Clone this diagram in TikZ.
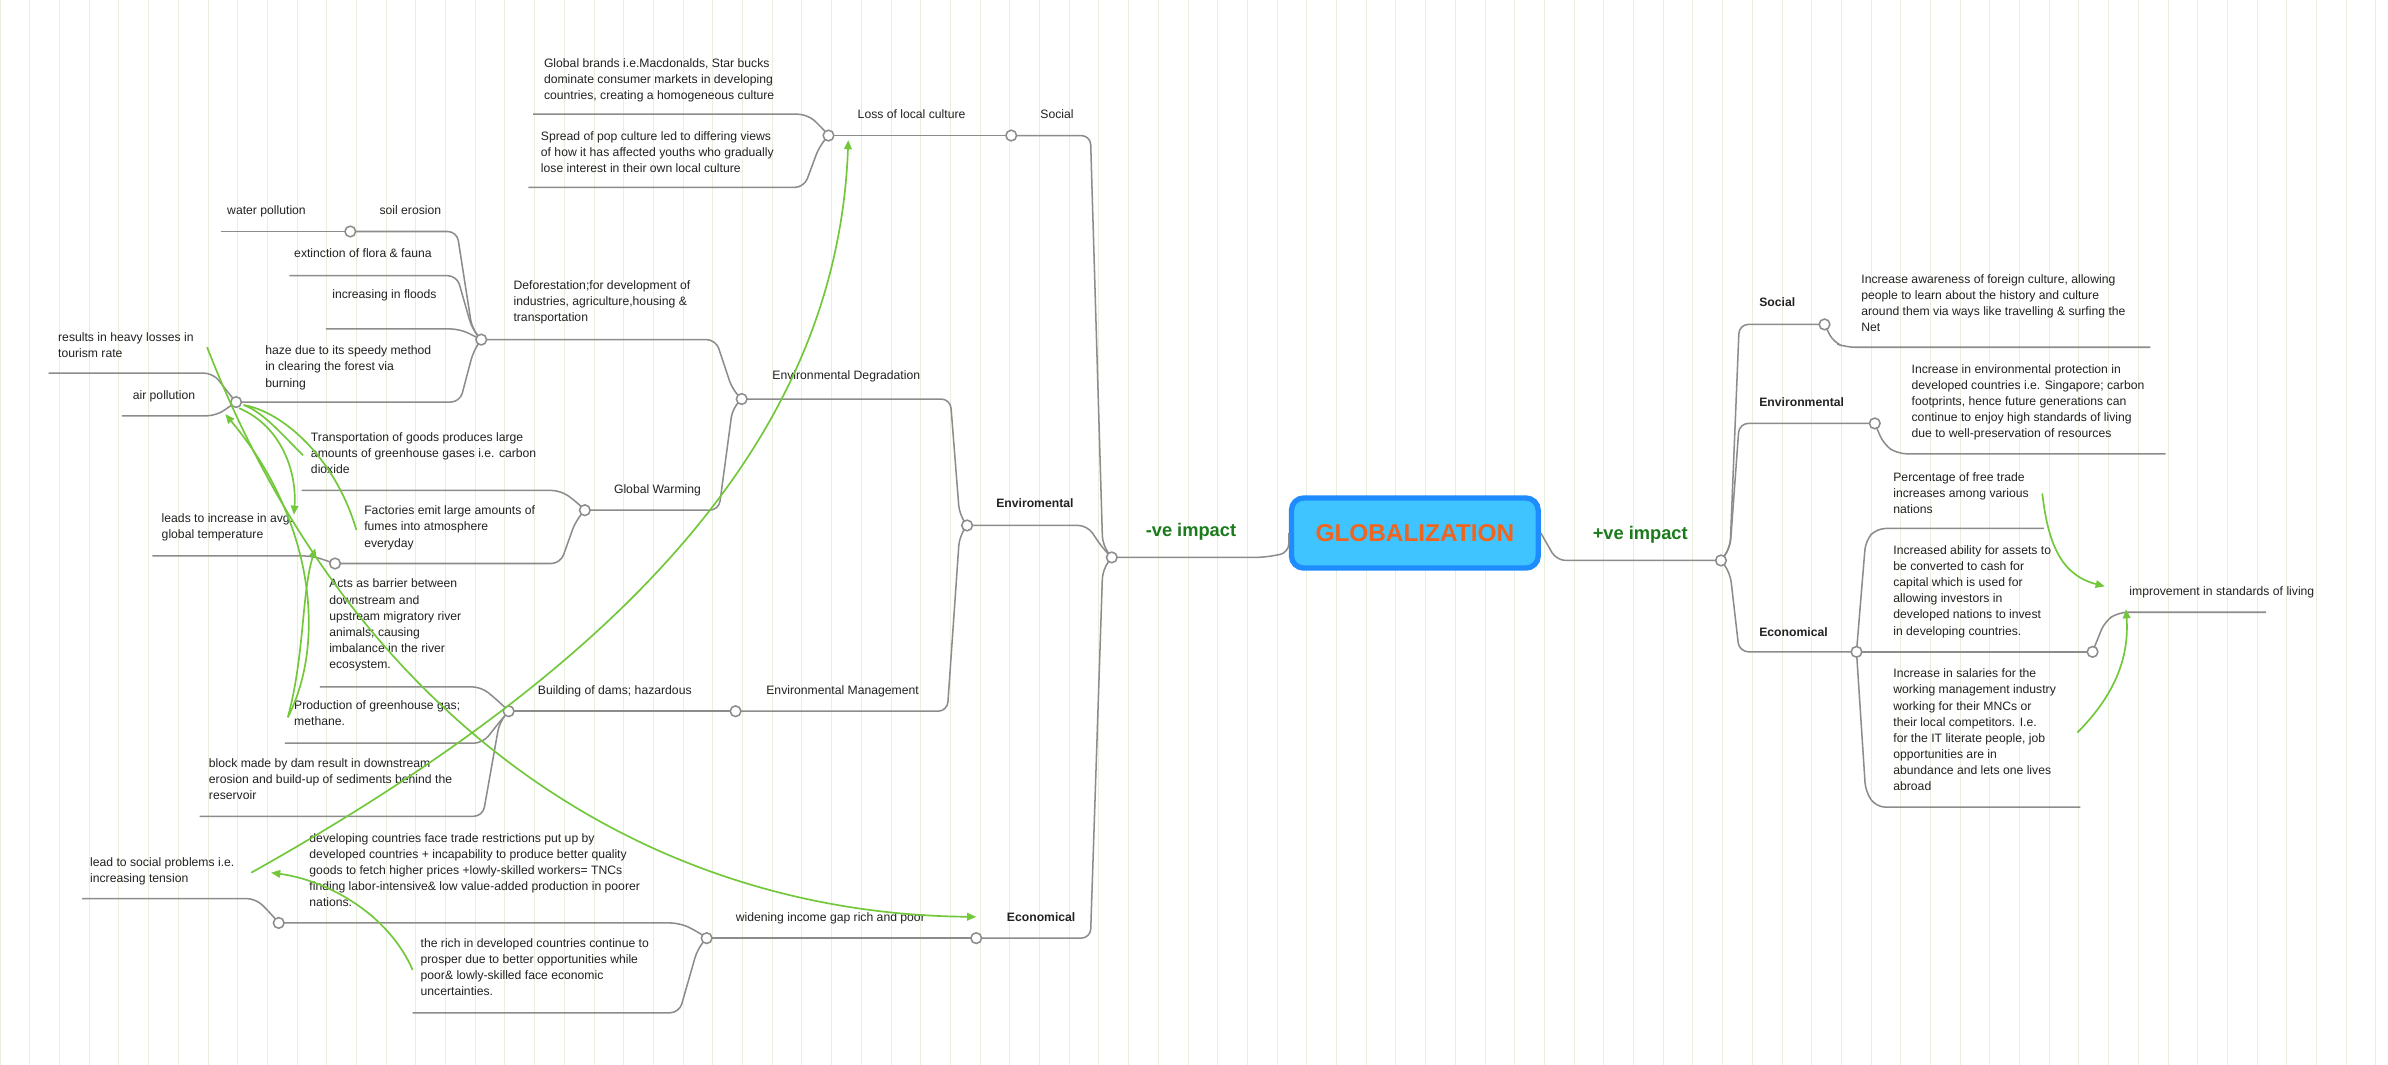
\documentclass[tikz,border=0pt]{standalone}
\usepackage{fontspec}
\setmainfont{Liberation Sans}
\usetikzlibrary{arrows.meta}
\definecolor{gridc}{HTML}{E6F0DC}
\definecolor{brc}{HTML}{8C8C8C}
\definecolor{grn}{HTML}{72C83A}
\definecolor{dgreen}{HTML}{1B7A1B}
\definecolor{boxf}{HTML}{40C4FF}
\definecolor{boxd}{HTML}{1E8CFF}
\definecolor{orng}{HTML}{F0641E}
\definecolor{txt}{HTML}{222222}
\tikzset{
 br/.style={draw=brc,line width=1pt,rounded corners=6pt},
 dot/.style={circle,draw=brc,fill=white,line width=1pt,minimum size=7pt,inner sep=0pt},
 tx/.style={anchor=north west,inner sep=0pt,align=left,text=txt,font=\fontsize{8}{10.6}\selectfont},
 bt/.style={tx,font=\fontsize{8}{10.6}\selectfont\bfseries},
 imp/.style={anchor=center,inner sep=0pt,text=dgreen,font=\fontsize{12}{14}\selectfont\bfseries},
 ga/.style={draw=grn,line width=1.1pt,-{Triangle[length=6pt,width=5pt]}},
 gl/.style={draw=grn,line width=1.1pt}
}
\begin{document}
\begin{tikzpicture}[x=1pt,y=-1pt]
\useasboundingbox (0,0) rectangle (1568,699);
\fill[white] (0,0) rectangle (1568,699);
\draw[gridc,line width=0.5pt,step=19.5] (0,0) grid (1568,699);
% circle positions
\coordinate (c0) at (730,366);
\coordinate (csoc) at (664,89);
\coordinate (closs) at (544,89);
\coordinate (cenv) at (635,345);
\coordinate (cdeg) at (487,262);
\coordinate (cdef) at (316,223);
\coordinate (csoil) at (230,152);
\coordinate (cair) at (155,264);
\coordinate (cgw) at (384,335);
\coordinate (clead) at (220,370);
\coordinate (cman) at (483,467);
\coordinate (cdam) at (334,467);
\coordinate (ceco) at (641,616);
\coordinate (cwid) at (464,616);
\coordinate (cdev) at (183,606);
\coordinate (r0) at (1130,368);
\coordinate (crsoc) at (1198,213);
\coordinate (crenv) at (1231,278);
\coordinate (creco) at (1219,428);
\coordinate (cinc) at (1374,428);
% center box
\node[draw=boxd,line width=3.5pt,fill=boxf,rounded corners=8pt,minimum width=162pt,minimum height=46pt,text=orng,font=\fontsize{16}{18}\selectfont\bfseries] (box) at (929,350) {GLOBALIZATION};
% left branches
\draw[br] (c0) -- (830,366) -- (box.west |- 0,363) -- (box.west);
\draw[br] (csoc) -- (716,89) -- (724,358) -- (c0);
\draw[br] (cenv) -- (714,345) -- (724,360) -- (c0);
\draw[br] (ceco) -- (716,616) -- (724,374) -- (c0);
\draw[br] (closs) -- (csoc);
\draw[br] (350,75) -- (530,75) -- (539,83) -- (closs);
\draw[br] (347,123) -- (528,123) -- (538,96) -- (closs);
\draw[br] (cdeg) -- (624,262) -- (630,338) -- (cenv);
\draw[br] (cman) -- (622,467) -- (630,352) -- (cenv);
\draw[br] (cdef) -- (470,223) -- (481,256) -- (cdeg);
\draw[br] (cgw) -- (472,335) -- (481,268) -- (cdeg);
\draw[br] (csoil) -- (300,152) -- (310,216) -- (cdef);
\draw[br] (145,152) -- (csoil);
\draw[br] (190,181) -- (300,181) -- (310,216) -- (cdef);
\draw[br] (214,216) -- (302,216) -- (cdef);
\draw[br] (cair) -- (302,264) -- (311,230) -- (cdef);
\draw[br] (32,245) -- (140,245) -- (150,258) -- (cair);
\draw[br] (80,273) -- (142,273) -- (cair);
\draw[br] (198,322) -- (368,322) -- (378,329) -- (cgw);
\draw[br] (clead) -- (368,370) -- (378,342) -- (cgw);
\draw[br] (100,365) -- (205,365) -- (clead);
\draw[br] (cdam) -- (cman);
\draw[br] (210,451) -- (316,451) -- (328,461) -- (cdam);
\draw[br] (187,488) -- (317,488) -- (328,474) -- (cdam);
\draw[br] (131,536) -- (317,536) -- (328,474) -- (cdam);
\draw[br] (cwid) -- (ceco);
\draw[br] (cdev) -- (446,606) -- (457,611) -- (cwid);
\draw[br] (271,665) -- (446,665) -- (458,623) -- (cwid);
\draw[br] (54,590) -- (168,590) -- (177,599) -- (cdev);
% right branches
\draw[br] (box.east) -- (1022,368) -- (r0);
\draw[br] (r0) -- (1136,360) -- (1142,213) -- (crsoc);
\draw[br] (r0) -- (1136,360) -- (1142,278) -- (crenv);
\draw[br] (r0) -- (1136,376) -- (1142,428) -- (creco);
\draw[br] (crsoc) -- (1204,225) -- (1212,228) -- (1412,228);
\draw[br] (crenv) -- (1237,292) -- (1246,298) -- (1422,298);
\draw[br] (creco) -- (1225,355) -- (1232,347) -- (1342,347);
\draw[br] (creco) -- (cinc);
\draw[br] (creco) -- (1225,520) -- (1232,530) -- (1366,530);
\draw[br] (cinc) -- (1382,408) -- (1391,402) -- (1488,402);
% dots
\foreach \c in {c0,csoc,closs,cenv,cdeg,cdef,csoil,cair,cgw,clead,cman,cdam,ceco,cwid,cdev,r0,crsoc,crenv,creco,cinc}
  \node[dot] (d\c) at (\c) {};
% texts left
\node[imp] (neg) at (782,349) {-ve impact};
\node[imp] (pos) at (1077,351) {+ve impact};
\node[tx] (t1) at (357,38) {Global brands i.e.Macdonalds, Star bucks\\dominate consumer markets in developing\\countries, creating a homogeneous culture};
\node[tx] (t2) at (355,86) {Spread of pop culture led to differing views\\of how it has affected youths who gradually\\lose interest in their own local culture};
\node[tx] (t3) at (563,72) {Loss of local culture};
\node[tx] (t4) at (683,72) {Social};
\node[tx] (t5) at (149,135) {water pollution};
\node[tx] (t6) at (249,135) {soil erosion};
\node[tx] (t7) at (193,163) {extinction of flora \& fauna};
\node[tx] (t8) at (218,190) {increasing in floods};
\node[tx] (t9) at (337,184) {Deforestation;for development of\\industries, agriculture,housing \&\\transportation};
\node[tx] (t10) at (38,218) {results in heavy losses in\\tourism rate};
\node[tx] (t11) at (174,227) {haze due to its speedy method\\in clearing the forest via\\burning};
\node[tx] (t12) at (87,256) {air pollution};
\node[tx] (t13) at (507,243) {Environmental Degradation};
\node[tx] (t14) at (204,284) {Transportation of goods produces large\\amounts of greenhouse gases i.e. carbon\\dioxide};
\node[tx] (t15) at (403,318) {Global Warming};
\node[tx] (t16) at (239,332) {Factories emit large amounts of\\fumes into atmosphere\\everyday};
\node[tx] (t17) at (106,337) {leads to increase in avg.\\global temperature};
\node[bt] (t18) at (654,327) {Enviromental};
\node[tx] (t19) at (216,380) {Acts as barrier between\\downstream and\\upstream migratory river\\animals; causing\\imbalance in the river\\ecosystem.};
\node[tx] (t20) at (353,450) {Building of dams; hazardous};
\node[tx] (t21) at (503,450) {Environmental Management};
\node[tx] (t22) at (193,460) {Production of greenhouse gas;\\methane.};
\node[tx] (t23) at (137,498) {block made by dam result in downstream\\erosion and build-up of sediments behind the\\reservoir};
\node[tx] (t24) at (203,547) {developing countries face trade restrictions put up by\\developed countries + incapability to produce better quality\\goods to fetch higher prices +lowly-skilled workers= TNCs\\finding labor-intensive\& low value-added production in poorer\\nations.};
\node[tx] (t25) at (59,563) {lead to social problems i.e.\\increasing tension};
\node[tx] (t26) at (483,599) {widening income gap rich and poor};
\node[bt] (t27) at (661,599) {Economical};
\node[tx] (t28) at (276,616) {the rich in developed countries continue to\\prosper due to better opportunities while\\poor\& lowly-skilled face economic\\uncertainties.};
% texts right
\node[bt] (r1) at (1155,195) {Social};
\node[tx] (r2) at (1222,180) {Increase awareness of foreign culture, allowing\\people to learn about the history and culture\\around them via ways like travelling \& surfing the\\Net};
\node[bt] (r3) at (1155,261) {Environmental};
\node[tx] (r4) at (1255,239) {Increase in environmental protection in\\developed countries i.e. Singapore; carbon\\footprints, hence future generations can\\continue to enjoy high standards of living\\due to well-preservation of resources};
\node[bt] (r5) at (1155,412) {Economical};
\node[tx] (r6) at (1243,310) {Percentage of free trade\\increases among various\\nations};
\node[tx] (r7) at (1243,358) {Increased ability for assets to\\be converted to cash for\\capital which is used for\\allowing investors in\\developed nations to invest\\in developing countries.};
\node[tx] (r8) at (1398,385) {improvement in standards of living};
\node[tx] (r9) at (1243,439) {Increase in salaries for the\\working management industry\\working for their MNCs or\\their local competitors. I.e.\\for the IT literate people, job\\opportunities are in\\abundance and lets one lives\\abroad};
% green relation arrows
\coordinate (g1s) at (1341,324); \coordinate (g1e) at (1382,385);
\coordinate (g2s) at (1364,481); \coordinate (g2e) at (1396,400);
\coordinate (g3s) at (165,573); \coordinate (g3e) at (557,92);
\coordinate (g4s) at (271,637); \coordinate (g4e) at (178,573);
\coordinate (g5s) at (136,228); \coordinate (g5e) at (641,602);
\coordinate (g6s) at (157,268); \coordinate (g6e) at (193,338);
\coordinate (g7s) at (199,299); \coordinate (g7e) at (160,266);
\coordinate (g8s) at (234,348);
\coordinate (g9s) at (189,471); \coordinate (g9e) at (148,272);
\coordinate (g10e) at (207,360);
\draw[ga] (g1s) .. controls (1345,360) and (1355,378) .. (g1e);
\draw[ga] (g2s) .. controls (1390,455) and (1398,430) .. (g2e);
\draw[ga] (g3s) .. controls (420,430) and (550,280) .. (g3e);
\draw[ga] (g4s) .. controls (255,600) and (215,578) .. (g4e);
\draw[ga] (g5s) .. controls (230,470) and (420,600) .. (g5e);
\draw[ga] (g6s) .. controls (185,280) and (195,310) .. (g6e);
\draw[gl] (g7s) .. controls (185,285) and (172,270) .. (g7e);
\draw[gl] (g8s) .. controls (220,300) and (185,270) .. (g7e);
\draw[ga] (g9s) .. controls (215,420) and (205,340) .. (g9e);
\draw[ga] (g9s) .. controls (200,430) and (198,390) .. (g10e);
\end{tikzpicture}
\end{document}
